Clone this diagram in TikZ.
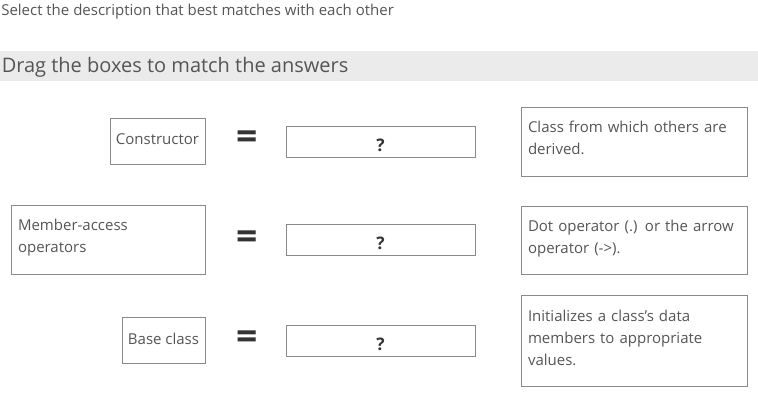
\documentclass[tikz,border=0pt]{standalone}
\usepackage{fontspec}
\setmainfont{Open Sans}
\usepackage{tikz}
\usepackage{xcolor}
\usetikzlibrary{positioning}
\definecolor{boxline}{HTML}{8A8A8A}
\definecolor{inkgray}{HTML}{555555}
\definecolor{bandgray}{HTML}{EBEBEB}
\definecolor{qmark}{HTML}{333333}

\begin{document}
\begin{tikzpicture}[x=0.75pt,y=-0.75pt]
        \tikzstyle{term}=[draw=boxline,line width=0.75pt,text=inkgray,font=\fontsize{11.25}{16.5}\selectfont,inner sep=0pt]
        \tikzstyle{defn}=[term,align=left,text width=159pt,inner xsep=5.25pt,text height=19.125pt]
        \tikzstyle{slot}=[draw=boxline,line width=0.75pt,minimum width=141.75pt,minimum height=23.25pt,text=qmark,font=\fontsize{13}{13}\selectfont\bfseries,inner sep=0pt,text height=14.25pt,text depth=0pt]
        \tikzstyle{equal}=[text=qmark,font=\fontsize{28}{28}\selectfont\bfseries,inner sep=0pt]
        \useasboundingbox (0,0) rectangle (758,407);
       \begin{scope}
         \node [anchor=base west,text=inkgray,font=\fontsize{11.25}{13}\selectfont,inner sep=0pt] (prompt) at (1,15.5) {Select the description that best matches with each other};
         \node [fill=bandgray,minimum width=568.5pt,minimum height=22.5pt,inner sep=0pt,anchor=north west] (band) at (0,51) {};
         \node [anchor=base west,text=inkgray,font=\fontsize{15}{18}\selectfont,inner sep=0pt] (heading) at (1.5,72) {Drag the boxes to match the answers};
        \end{scope}
       \begin{scope}
         \node [term,minimum width=71.25pt,minimum height=34.5pt,text depth=2.5pt] (term1) at (157.5,141) {Constructor};
         \node [defn,text width=135pt,text depth=32.625pt] (term2) at (108,239.5) {Member-access\\operators};
         \node [term,minimum width=62.25pt,minimum height=34.5pt,text depth=2.5pt] (term3) at (163.5,340) {Base class};
         \node [equal] (eq1) at (247,140.5) {=};
         \node [equal] (eq2) at (247,240.5) {=};
         \node [equal] (eq3) at (247,340.5) {=};
         \node [slot] (slot1) at (380.5,141.5) {?};
         \node [slot] (slot2) at (380.5,239.5) {?};
         \node [slot] (slot3) at (380.5,340.5) {?};
         \node [defn,text depth=32.625pt] (defn1) at (634,141.5) {Class from which others are\\derived.};
         \node [defn,text depth=31.875pt] (defn2) at (634,240) {Dot operator (.) or the arrow\\operator (->).};
         \node [defn,text depth=49.125pt] (defn3) at (634,341) {Initializes a class’s data\\members to appropriate\\values.};
        \end{scope}
      \end{tikzpicture}
\end{document}
